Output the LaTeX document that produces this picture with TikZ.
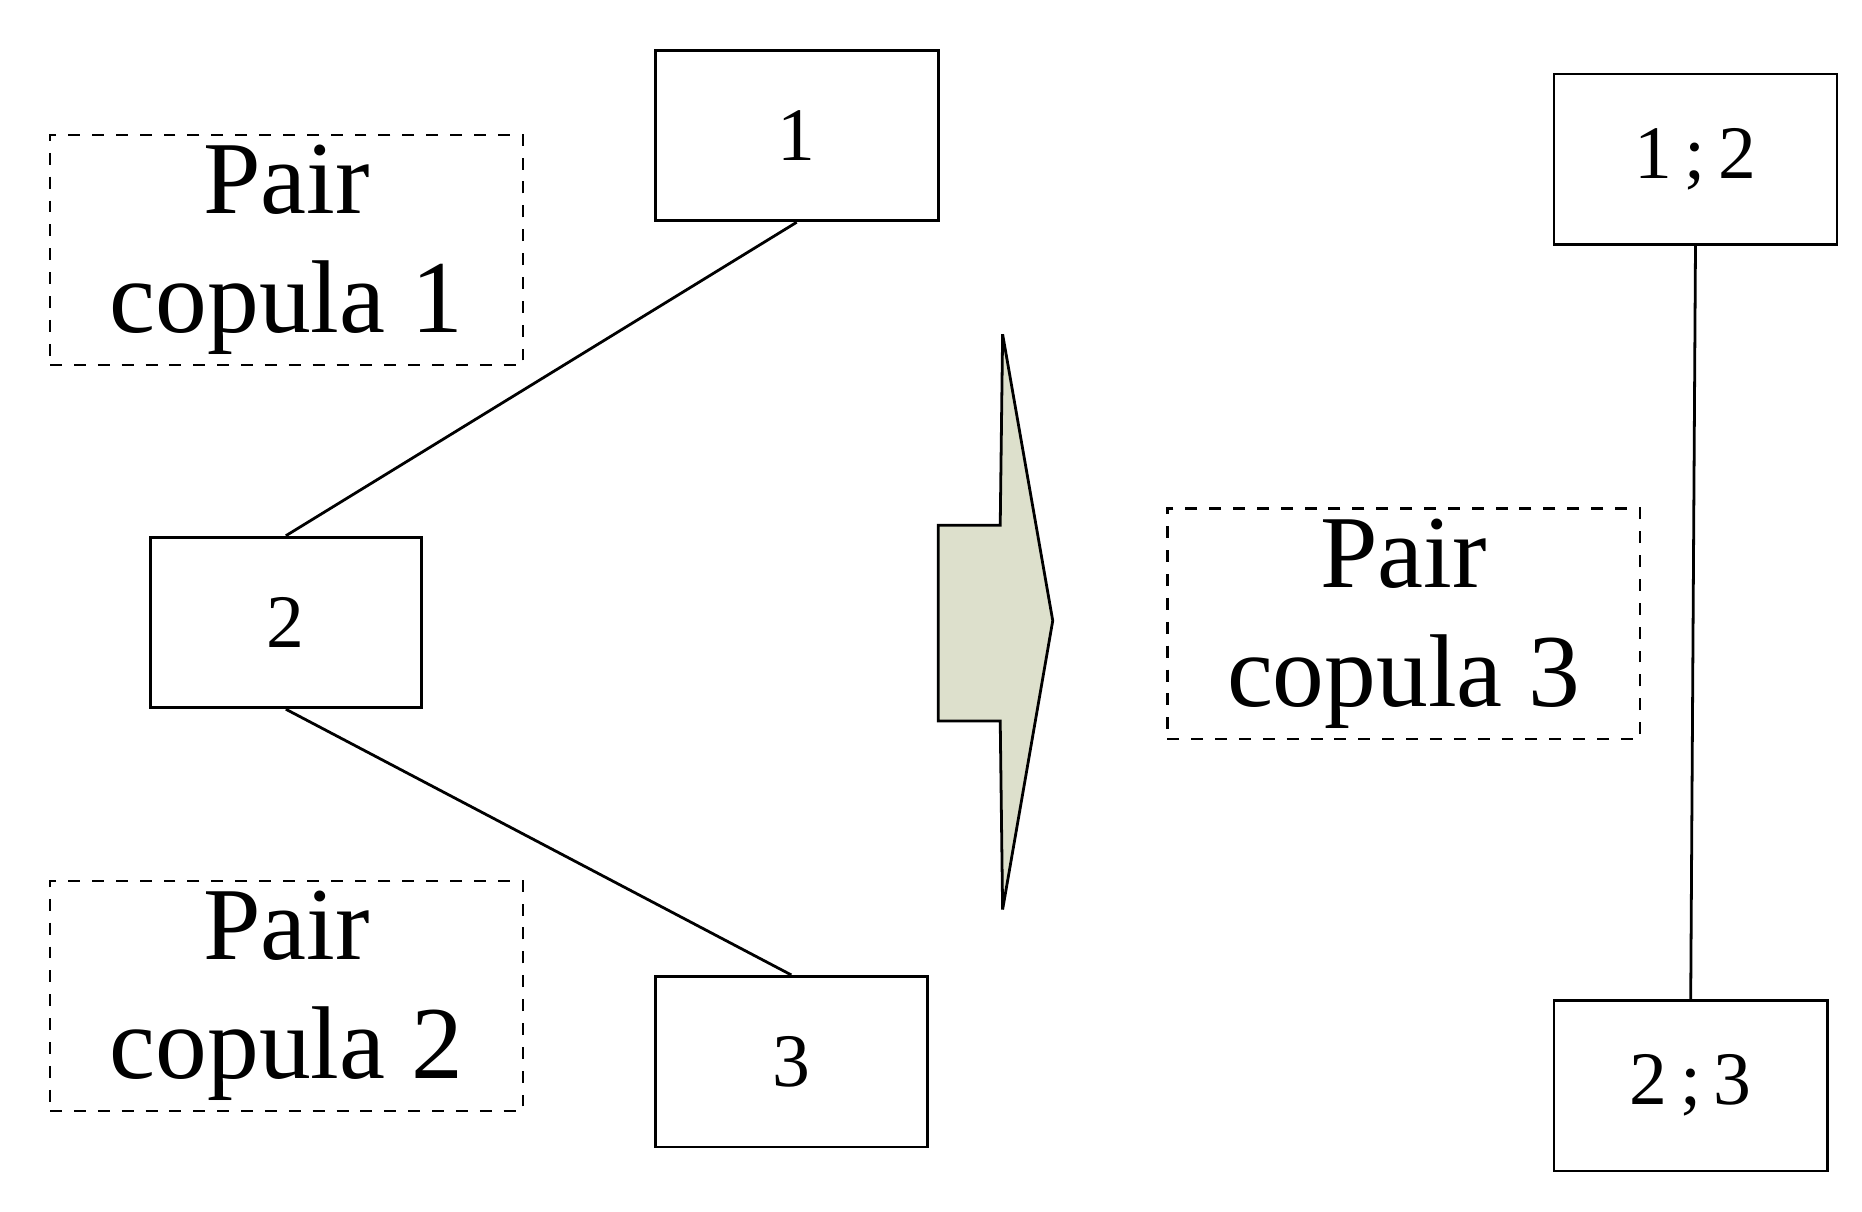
\documentclass[tikz,border=0pt]{standalone}
\usepackage{fontspec}
\setmainfont{Liberation Serif}
\begin{document}
\begin{tikzpicture}[x=0.3pt,y=-0.3pt,
  box/.style={draw,line width=0.7pt,inner sep=0pt,font=\fontsize{19}{22}\selectfont},
  pc/.style={draw,dashed,line width=0.6pt,inner sep=0pt,align=center,font=\fontsize{26}{30}\selectfont},
  conn/.style={line width=0.7pt}]
\useasboundingbox (0,0) rectangle (1560,1015);
\node[box,minimum width=237*0.3pt,minimum height=143*0.3pt] (b1) at (667.5,113.5) {1};
\node[box,minimum width=227*0.3pt,minimum height=143*0.3pt] (b2) at (239.5,521.5) {2};
\node[box,minimum width=228*0.3pt,minimum height=143*0.3pt] (b3) at (663,889.5) {3};
\node[box,minimum width=237*0.3pt,minimum height=143*0.3pt] (b12) at (1420.5,133.5) {1\,;\,2};
\node[box,minimum width=229*0.3pt,minimum height=143*0.3pt] (b23) at (1416.5,909.5) {2\,;\,3};
\node[pc,minimum width=396*0.3pt,minimum height=193*0.3pt] (p1) at (240,209.5) {Pair\\copula 1};
\node[pc,minimum width=396*0.3pt,minimum height=193*0.3pt] (p2) at (240,834.5) {Pair\\copula 2};
\node[pc,minimum width=396*0.3pt,minimum height=193*0.3pt] (p3) at (1176,522.5) {Pair\\copula 3};
\draw[conn] (b1.south) -- (b2.north);
\draw[conn] (b2.south) -- (b3.north);
\draw[conn] (b12.south) -- (b23.north);
\draw[line width=0.7pt,fill={rgb,255:red,221;green,224;blue,204}]
  (786,440) -- (838,440) -- (840,280) -- (882,520) -- (840,762) -- (838,604) -- (786,604) -- cycle;
\end{tikzpicture}
\end{document}
